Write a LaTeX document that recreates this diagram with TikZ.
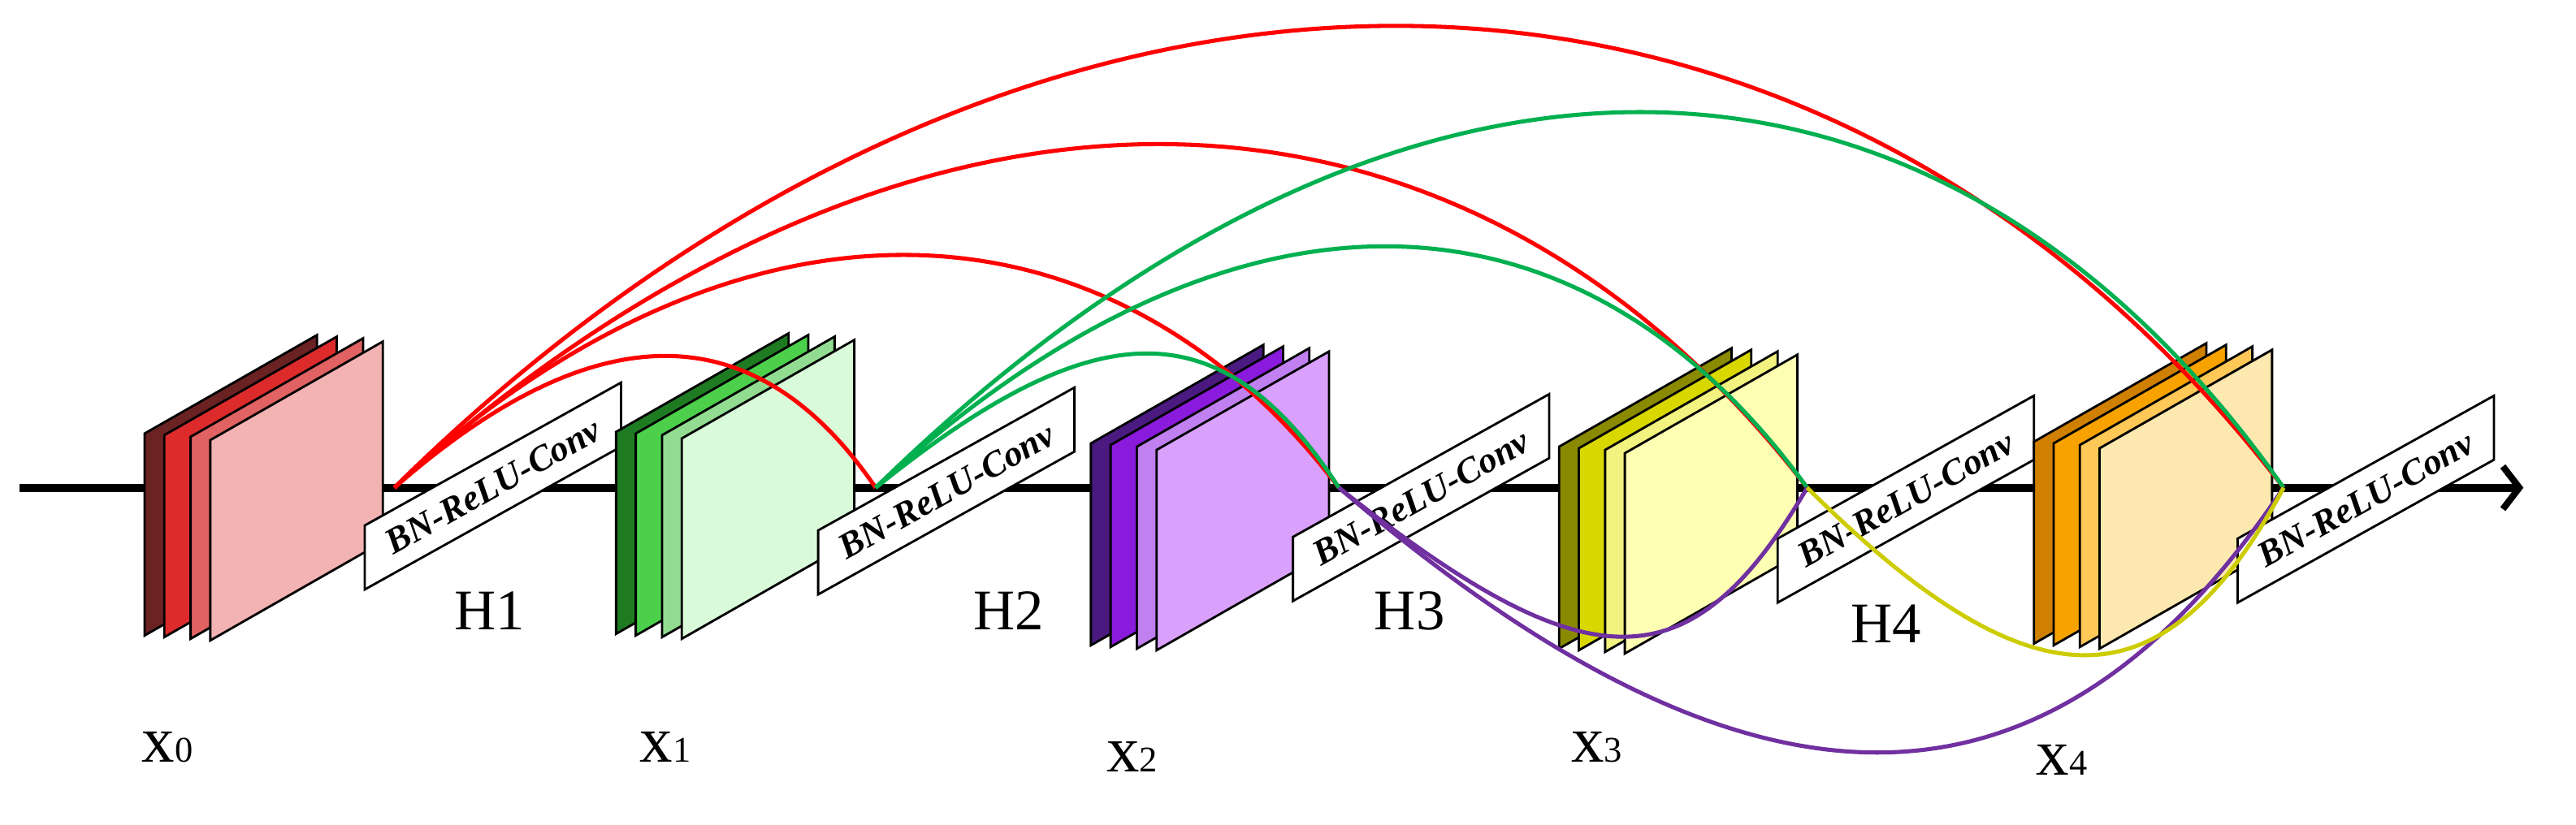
\documentclass[tikz,border=0pt]{standalone}
\usepackage{fontspec}
\setmainfont{Liberation Serif}
\usetikzlibrary{arrows.meta}
\definecolor{cR}{HTML}{FF0000}
\definecolor{cG}{HTML}{00B050}
\definecolor{cP}{HTML}{7030A0}
\definecolor{cY}{HTML}{CCCC00}
\tikzset{
  sheetline/.style={draw=black,line width=1.4pt,line join=miter},
  boxline/.style={draw=black,fill=white,line width=1.4pt},
  conn/.style={line width=2.5pt},
  lbl/.style={font=\fontsize{35}{36}\selectfont,inner sep=0pt},
  boxtxt/.style={font=\fontsize{22}{23}\selectfont\bfseries\itshape,rotate=29.2,inner sep=0pt}
}
\newcommand\mysheet[5]{% L, TR, BL, shift, color
  \pgfmathsetmacro\RR{#1+105}
  \pgfmathsetmacro\TR{#2+#4}
  \pgfmathsetmacro\TLL{#2+60+#4}
  \pgfmathsetmacro\BLL{#3+#4}
  \pgfmathsetmacro\BR{#3-60+#4}
  \path[sheetline,fill=#5] (#1,\TLL) -- (\RR,\TR) -- (\RR,\BR) -- (#1,\BLL) -- cycle;
}
\newcommand\myblock[6]{% x, shift, c1..c4
  \pgfmathsetmacro\xa{#1}\pgfmathsetmacro\xb{#1+12}\pgfmathsetmacro\xc{#1+28}\pgfmathsetmacro\xd{#1+40}
  \mysheet{\xa}{204}{387}{#2}{#3}
  \mysheet{\xb}{205}{388}{#2}{#4}
  \mysheet{\xc}{206}{389}{#2}{#5}
  \mysheet{\xd}{208}{390}{#2}{#6}
}
\newcommand\mybox[3]{% name, L, T
  \pgfmathsetmacro\bR{#2+156}\pgfmathsetmacro\bTL{#3+87}\pgfmathsetmacro\bBL{#3+126}\pgfmathsetmacro\bBR{#3+39}
  \pgfmathsetmacro\cx{#2+78}\pgfmathsetmacro\cy{#3+63}
  \path[boxline] (#2,\bTL) -- (\bR,#3) -- (\bR,\bBR) -- (#2,\bBL) -- cycle;
  \node[boxtxt] (#1) at (\cx,\cy) {BN-ReLU-Conv};
}
\definecolor{a1}{HTML}{6B2222}\definecolor{a2}{HTML}{DD2B2B}\definecolor{a3}{HTML}{E06262}\definecolor{a4}{HTML}{F4B3B3}
\definecolor{b1}{HTML}{1E7B22}\definecolor{b2}{HTML}{4CD04C}\definecolor{b3}{HTML}{92DC92}\definecolor{b4}{HTML}{DAFBDA}
\definecolor{d1}{HTML}{4A1A80}\definecolor{d2}{HTML}{8A1ADC}\definecolor{d3}{HTML}{C080F0}\definecolor{d4}{HTML}{D9A0FC}
\definecolor{e1}{HTML}{8A8A00}\definecolor{e2}{HTML}{D8D800}\definecolor{e3}{HTML}{F2F280}\definecolor{e4}{HTML}{FFFFB4}
\definecolor{f1}{HTML}{D08000}\definecolor{f2}{HTML}{F8A200}\definecolor{f3}{HTML}{FFC857}\definecolor{f4}{HTML}{FDE8B0}
\begin{document}
\begin{tikzpicture}[x=1pt,y=-1pt]
\useasboundingbox (0,0) rectangle (1568,502);
\coordinate (s) at (12,297);
\coordinate (e) at (1536,297);
\draw[line width=5pt,-{Straight Barb[length=10pt,width=26pt,line width=4pt]}] (s) -- (e);
\myblock{88}{0}{a1}{a2}{a3}{a4}
\mybox{k1}{222}{233}
\myblock{375}{-1}{b1}{b2}{b3}{b4}
\mybox{k2}{498}{236}
\myblock{664}{6}{d1}{d2}{d3}{d4}
\mybox{k3}{787}{240}
\myblock{949}{8}{e1}{e2}{e3}{e4}
\mybox{k4}{1082}{241}
\myblock{1238}{5}{f1}{f2}{f3}{f4}
\mybox{k5}{1362}{241}
\node[lbl] (h1) at (298,372) {H1};
\node[lbl] (h2) at (614,372) {H2};
\node[lbl] (h3) at (858,372) {H3};
\node[lbl] (h4) at (1148,380) {H4};
\newcommand\xl[1]{{\fontsize{40}{40}\selectfont x}{\fontsize{22}{22}\selectfont #1}}
\node[lbl] (x0) at (102,455) {\xl{0}};
\node[lbl] (x1) at (405,455) {\xl{1}};
\node[lbl] (x2) at (689,461) {\xl{2}};
\node[lbl] (x3) at (972,455) {\xl{3}};
\node[lbl] (x4) at (1255,463) {\xl{4}};
\coordinate (p0) at (240,297);
\coordinate (p1) at (533,297);
\coordinate (p2) at (815,297);
\coordinate (p3) at (1100,297);
\coordinate (p4) at (1390,297);
\draw[conn,cR] (p0) .. controls (362,190) and (460,190) .. (p1);
\draw[conn,cR] (p0) .. controls (444,108) and (671,108) .. (p2);
\draw[conn,cR] (p0) .. controls (549,18) and (885,18) .. (p3);
\draw[conn,cR] (p0) .. controls (620,-78) and (1102,-78) .. (p4);
\draw[conn,cG] (p1) .. controls (668,188) and (744,188) .. (p2);
\draw[conn,cG] (p1) .. controls (746,101) and (958,101) .. (p3);
\draw[conn,cG] (p1) .. controls (845,-8) and (1176,-8) .. (p4);
\draw[conn,cP] (p2) .. controls (967,418) and (1029,418) .. (p3);
\draw[conn,cP] (p2) .. controls (1066,512) and (1246,512) .. (p4);
\draw[conn,cY] (p3) .. controls (1237,433) and (1317,433) .. (p4);
\end{tikzpicture}
\end{document}
